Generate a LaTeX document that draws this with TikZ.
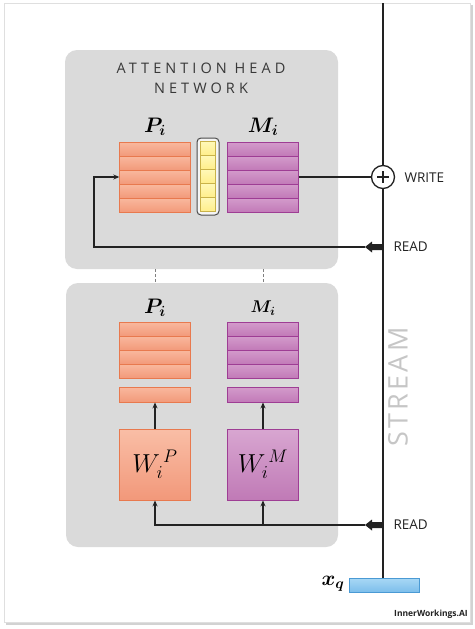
\RequirePackage{fix-cm}
\documentclass[tikz,border=0pt]{standalone}
\usepackage{amsmath,bm}
\usepackage{fontspec}
\setsansfont{Open Sans}
\newfontfamily\titlefont[LetterSpace=28]{Open Sans}
\newfontfamily\streamfont[LetterSpace=12]{Open Sans}
\usetikzlibrary{arrows.meta,calc}
\definecolor{porange}{HTML}{E8794E}
\definecolor{porangeL}{HTML}{F9B89E}
\definecolor{porangeD}{HTML}{F29A7A}
\definecolor{mpurple}{HTML}{9E3D94}
\definecolor{mpurpleL}{HTML}{D39BCB}
\definecolor{mpurpleD}{HTML}{C27AB8}
\definecolor{wpurpleL}{HTML}{D8A6D1}
\definecolor{wpurpleD}{HTML}{C07AB6}
\definecolor{worangeL}{HTML}{F9BEA6}
\definecolor{worangeD}{HTML}{F2987A}
\definecolor{yelL}{HTML}{FFF8B8}
\definecolor{yelD}{HTML}{FFEE8A}
\definecolor{yelB}{HTML}{C9B24A}
\definecolor{panelgray}{HTML}{DADADA}
\definecolor{xqL}{HTML}{A8D8F5}
\definecolor{xqD}{HTML}{7DBEEB}
\definecolor{xqB}{HTML}{4A9AD4}
\definecolor{ink}{HTML}{222222}
\begin{document}
\begin{tikzpicture}[x=1pt,y=-1pt,
  prow/.style={draw=porange, line width=0.8pt, top color=porangeL, bottom color=porangeD},
  mrow/.style={draw=mpurple, line width=0.8pt, top color=mpurpleL, bottom color=mpurpleD},
  yrow/.style={draw=yelB, line width=0.7pt, top color=yelL, bottom color=yelD},
  wpbox/.style={draw=porange, line width=0.8pt, top color=worangeL, bottom color=worangeD, minimum width=71pt, minimum height=71pt, inner sep=0pt},
  wmbox/.style={draw=mpurple, line width=0.8pt, top color=wpurpleL, bottom color=wpurpleD, minimum width=71pt, minimum height=71pt, inner sep=0pt},
  panel/.style={fill=panelgray, rounded corners=12pt, inner sep=0pt},
  holder/.style={inner sep=0pt, minimum width=71pt},
  conn/.style={draw=ink, line width=1.3pt},
  tip/.style={-{Stealth[length=6pt,width=5pt]}},
  lbl/.style={font=\sffamily\fontsize{13.5}{13.5}\selectfont, text=ink},
  mlbl/.style={font=\fontsize{21}{21}\selectfont, text=black},
  fat/.style={fill=ink},
  dashln/.style={draw=gray, line width=0.9pt, dash pattern=on 3pt off 2pt},
]
\useasboundingbox (0,0) rectangle (474,629);
% page
\fill[gray!35] (6,5) rectangle (473,625);
\filldraw[fill=white, draw=gray!25, line width=0.6pt] (4,3) rectangle (470,622);

% panels
\node[panel, minimum width=273pt, minimum height=219pt] (toppanel) at (201.5,159.5) {};
\node[panel, minimum width=272pt, minimum height=264pt] (botpanel) at (202,415) {};

% title
\node[font=\titlefont\fontsize{14.5}{20}\selectfont, text=ink!90, align=center] (title) at (201,78) {ATTENTION HEAD\\NETWORK};

% top P matrix
\foreach \i in {0,...,4} \draw[prow] (119.5,{142+14*\i}) rectangle (190.5,{156+14*\i});
\node[holder, minimum height=70pt] (Ptop) at (155,177) {};
% yellow stack
\draw[rounded corners=4pt, draw=gray!60!black, fill=white!92!gray, line width=1pt] (197,138) rectangle (219,215);
\foreach \i in {0,...,4} \draw[yrow] (200.5,{141.5+14*\i}) rectangle (215.5,{155.5+14*\i});
% top M matrix
\foreach \i in {0,...,4} \draw[mrow] (227.5,{142+14*\i}) rectangle (298.5,{156+14*\i});
\node[holder, minimum height=70pt] (Mtop) at (263,177) {};

\node[mlbl] (PtopL) at (155,127) {$\bm{P_i}$};
\node[mlbl] (MtopL) at (263,127) {$\bm{M_i}$};

% bottom P
\foreach \i in {0,...,3} \draw[prow] (119.5,{322+14*\i}) rectangle (190.5,{336+14*\i});
\node[holder, minimum height=56pt] (Pbot) at (155,350) {};
\node[prow, holder, minimum height=15pt] (Pvec) at (155,394.5) {};
% bottom M
\foreach \i in {0,...,3} \draw[mrow] (227.5,{322+14*\i}) rectangle (298.5,{336+14*\i});
\node[holder, minimum height=56pt] (Mbot) at (263,350) {};
\node[mrow, holder, minimum height=15pt] (Mvec) at (263,394.5) {};

\node[mlbl] (PbotL) at (155,308) {$\bm{P_i}$};
\node[mlbl, font=\fontsize{17}{17}\selectfont] (MbotL) at (263,308) {$\bm{M_i}$};

% W boxes
\node[wpbox, font=\fontsize{26}{26}\selectfont] (WP) at (155,464.5) {$W_i^{\,P}$};
\node[wmbox, font=\fontsize{26}{26}\selectfont] (WM) at (263,464.5) {$W_i^{\,M}$};

\draw[conn, tip] (WP.north) -- (Pvec.south);
\draw[conn, tip] (WM.north) -- (Mvec.south);

% dashed links
\draw[dashln] (Ptop.center |- toppanel.south) -- (Ptop.center |- botpanel.north);
\draw[dashln] (Mtop.center |- toppanel.south) -- (Mtop.center |- botpanel.north);

% stream
\coordinate (streamtop) at (383,3);
\node[circle, draw=ink, line width=1.3pt, fill=white, minimum size=23pt, inner sep=0pt] (plus) at (383,177) {};
\draw[line width=1.3pt, ink] ($(plus.center)+(-6,0)$) -- ($(plus.center)+(6,0)$);
\draw[line width=1.3pt, ink] ($(plus.center)+(0,-6)$) -- ($(plus.center)+(0,6)$);
\node[draw=xqB, line width=0.8pt, top color=xqL, bottom color=xqD, minimum width=70pt, minimum height=14pt, inner sep=0pt] (xq) at (384,585) {};
\node[font=\fontsize{21}{21}\selectfont] (xqlab) at (333,584) {$\bm{x_q}$};
\draw[conn] (streamtop) -- (plus.north);
\draw[conn] (plus.south) -- (xq.north -| plus.south);
\draw[conn] (Mtop.east) -- (plus.west);
\node[lbl, anchor=west] (write) at (401,178) {WRITE};

% top READ
\coordinate (rtop) at (383,247);
\coordinate (rtoptip) at (365,247);
\fill[fat] (rtop) ++(0,-3) -- ++(-11,0) -- ++(0,-2.5) -- ++(-7,5.5) -- ++(7,5.5) -- ++(0,-2.5) -- ++(11,0) -- cycle;
\draw[conn, tip] (rtoptip) -| (94,177) -- (Ptop.west);
\node[lbl, anchor=west] (read1) at (390,247) {READ};

% bottom READ
\coordinate (rbot) at (383,525);
\coordinate (rbottip) at (365,525);
\fill[fat] (rbot) ++(0,-3) -- ++(-11,0) -- ++(0,-2.5) -- ++(-7,5.5) -- ++(7,5.5) -- ++(0,-2.5) -- ++(11,0) -- cycle;
\draw[conn, tip] (rbottip) -| (WP.south);
\draw[conn, tip] (WM.south |- rbottip) -- (WM.south);
\node[lbl, anchor=west] (read2) at (390,525) {READ};

% STREAM label
\node[rotate=90, font=\streamfont\fontsize{27}{27}\selectfont, text=gray!45] (stream) at (398,387) {STREAM};

% brand
\node[font=\sffamily\bfseries\fontsize{8.5}{8.5}\selectfont, text=ink] (brand) at (431,614) {InnerWorkings.AI};
\end{tikzpicture}
\end{document}
